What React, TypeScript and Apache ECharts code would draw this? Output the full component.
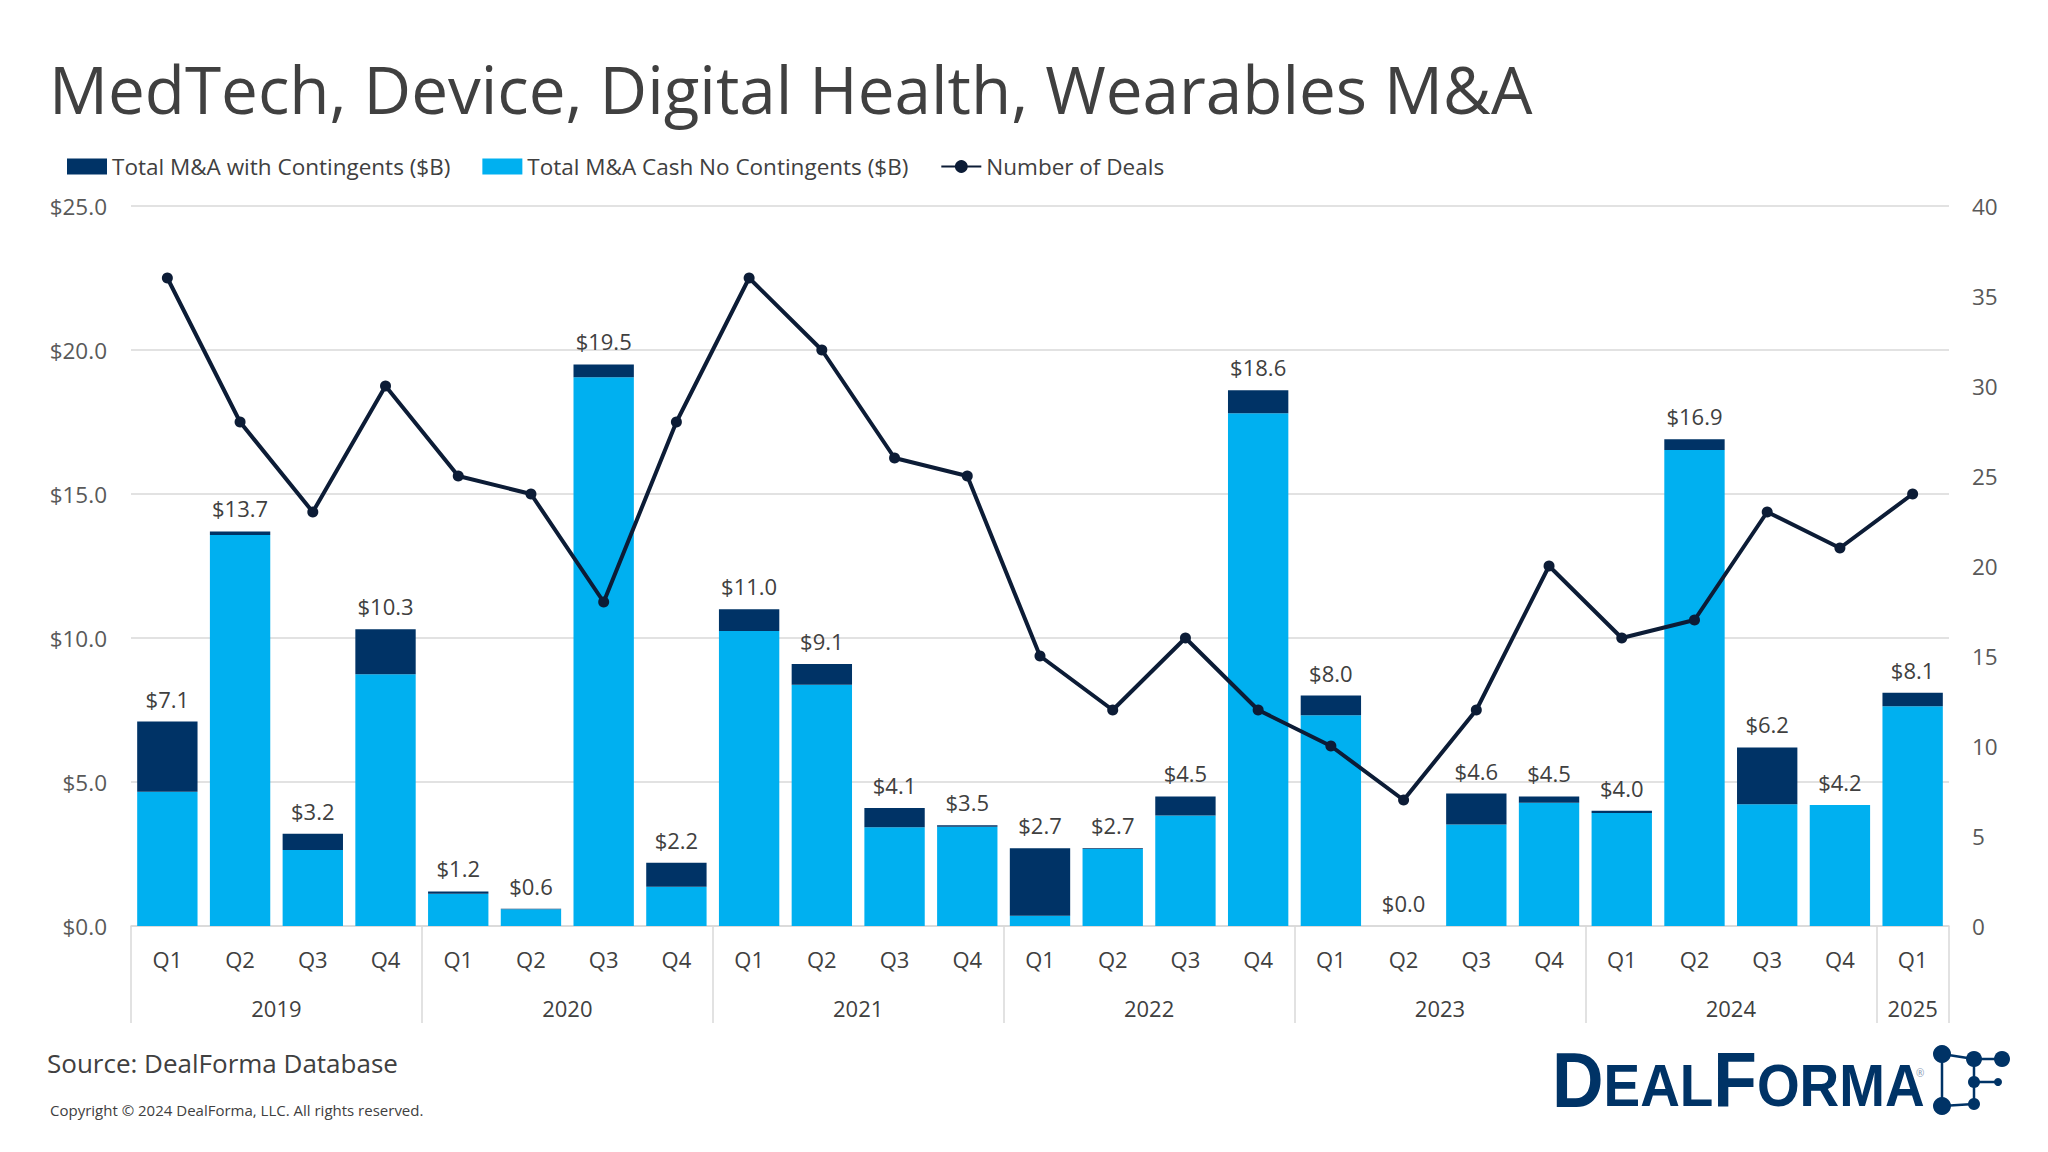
import React, { useEffect, useRef } from "react";
import * as echarts from "echarts";

// Quarterly M&A totals ($B), cash portion without contingents ($B) and deal counts
const years = ["2019", "2020", "2021", "2022", "2023", "2024", "2025"];
const quartersPerYear = [4, 4, 4, 4, 4, 4, 1];
const quarterNames = ["Q1", "Q2", "Q3", "Q4"];

const totalWithContingents = [
  7.1, 13.7, 3.2, 10.3,
  1.2, 0.6, 19.5, 2.2,
  11.0, 9.1, 4.1, 3.5,
  2.7, 2.7, 4.5, 18.6,
  8.0, 0.0, 4.6, 4.5,
  4.0, 16.9, 6.2, 4.2,
  8.1,
];
const cashNoContingents = [
  4.66, 13.58, 2.64, 8.74,
  1.12, 0.58, 19.05, 1.36,
  10.24, 8.38, 3.43, 3.45,
  0.36, 2.67, 3.84, 17.8,
  7.32, 0.0, 3.52, 4.28,
  3.92, 16.53, 4.23, 4.2,
  7.63,
];
const numberOfDeals = [
  36, 28, 23, 30,
  25, 24, 18, 28,
  36, 32, 26, 25,
  15, 12, 16, 12,
  10, 7, 12, 20,
  16, 17, 23, 21,
  24,
];

const leftTicks = { min: 0, max: 25, interval: 5 };
const rightTicks = { min: 0, max: 40, interval: 5 };

const FONT = "'Open Sans', 'Noto Sans', sans-serif";
const TEXT = "#404040";
const AXIS_TEXT = "#595959";
const GRID = "#d9d9d9";
const LIGHT = "#00b0f0";
const DARK = "#003366";
const LINE = "#0c1c36";

// category keys and display labels
const categories: string[] = [];
const quarterLabels: string[] = [];
years.forEach((y, yi) => {
  for (let q = 0; q < quartersPerYear[yi]; q++) {
    categories.push(`${y} ${quarterNames[q]}`);
    quarterLabels.push(quarterNames[q]);
  }
});

// year boundaries and centres along the quarter index
const yearBounds: number[] = [0];
const yearCenters: number[] = [];
quartersPerYear.forEach((n) => {
  const start = yearBounds[yearBounds.length - 1];
  yearCenters.push(start + n / 2);
  yearBounds.push(start + n);
});
const quarterCount = yearBounds[yearBounds.length - 1];

const contingentPart = totalWithContingents.map((t, i) =>
  Math.max(0, +(t - cashNoContingents[i]).toFixed(2))
);

function App() {
  const ref = useRef<HTMLDivElement>(null);

  useEffect(() => {
    if (!ref.current) return;
    const chart = echarts.init(ref.current, null, { renderer: "svg" });

    // logo molecule mark
    const nodes = [
      [1942, 1054, 9],
      [1974, 1059, 8],
      [2002, 1059, 8],
      [1974, 1082, 6],
      [1998, 1082, 4],
      [1942, 1106, 9],
      [1974, 1104, 6],
    ];
    const links = [
      [0, 1], [1, 2], [0, 5], [1, 6], [3, 4], [5, 6],
    ];

    const option: echarts.EChartsOption = {
      animation: false,
      backgroundColor: "#ffffff",
      textStyle: { fontFamily: FONT },
      title: {
        text: "MedTech, Device, Digital Health, Wearables M&A",
        left: 44,
        top: 50,
        textStyle: {
          fontFamily: FONT,
          fontSize: 65.6,
          fontWeight: "normal",
          color: TEXT,
        },
      },
      legend: {
        left: 62,
        top: 150,
        itemWidth: 40,
        itemHeight: 16,
        itemGap: 32,
        data: [
          { name: "Total M&A with Contingents ($B)", icon: "rect" },
          { name: "Total M&A Cash No Contingents ($B)", icon: "rect" },
          { name: "Number of Deals" },
        ],
        textStyle: { fontFamily: FONT, fontSize: 22.5, color: TEXT },
      },
      grid: { left: 131, right: 99, top: 206, bottom: 226 },
      xAxis: [
        {
          type: "category",
          data: categories,
          position: "bottom",
          axisLine: { lineStyle: { color: GRID, width: 1.5 } },
          axisTick: { show: false },
          axisLabel: {
            formatter: (_v: string, i: number) => quarterLabels[i],
            interval: 0,
            margin: 22,
            fontFamily: FONT,
            fontSize: 22,
            color: TEXT,
          },
          splitLine: { show: false },
        },
        {
          type: "value",
          position: "bottom",
          min: 0,
          max: quarterCount,
          axisLine: { show: false },
          splitLine: { show: false },
          axisTick: {
            show: true,
            customValues: yearBounds,
            length: 97,
            lineStyle: { color: GRID, width: 1.5 },
          },
          axisLabel: {
            customValues: yearCenters,
            formatter: (v: number) => {
              const idx = yearCenters.findIndex((c) => Math.abs(c - v) < 1e-6);
              return idx >= 0 ? years[idx] : "";
            },
            margin: 71,
            fontFamily: FONT,
            fontSize: 22,
            color: TEXT,
          },
        },
      ],
      yAxis: [
        {
          type: "value",
          position: "left",
          ...leftTicks,
          axisLine: { show: false },
          axisTick: { show: false },
          splitLine: { lineStyle: { color: GRID, width: 1.5 } },
          axisLabel: {
            formatter: (v: number) => "$" + v.toFixed(1),
            margin: 24,
            fontFamily: FONT,
            fontSize: 22.5,
            color: AXIS_TEXT,
          },
        },
        {
          type: "value",
          position: "right",
          ...rightTicks,
          axisLine: { show: false },
          axisTick: { show: false },
          splitLine: { show: false },
          axisLabel: {
            margin: 23,
            fontFamily: FONT,
            fontSize: 22.5,
            color: AXIS_TEXT,
          },
        },
      ],
      series: [
        {
          name: "Total M&A Cash No Contingents ($B)",
          type: "bar",
          stack: "ma",
          data: cashNoContingents,
          barCategoryGap: "17%",
          itemStyle: { color: LIGHT },
          xAxisIndex: 0,
          yAxisIndex: 0,
        },
        {
          name: "Total M&A with Contingents ($B)",
          type: "bar",
          stack: "ma",
          data: contingentPart,
          itemStyle: { color: DARK },
          xAxisIndex: 0,
          yAxisIndex: 0,
          label: {
            show: true,
            position: "top",
            distance: 12,
            formatter: (p: any) => "$" + totalWithContingents[p.dataIndex].toFixed(1),
            fontFamily: FONT,
            fontSize: 22,
            color: TEXT,
          },
        },
        {
          name: "Number of Deals",
          type: "line",
          data: numberOfDeals,
          xAxisIndex: 0,
          yAxisIndex: 1,
          symbol: "circle",
          symbolSize: 11,
          lineStyle: { color: LINE, width: 4 },
          itemStyle: { color: LINE },
          z: 5,
        },
      ],
      graphic: [
        {
          type: "text",
          left: 47,
          top: 1050,
          style: {
            text: "Source: DealForma Database",
            fontFamily: FONT,
            fontSize: 26,
            fill: TEXT,
          },
        },
        {
          type: "text",
          left: 50,
          top: 1102,
          style: {
            text: "Copyright © 2024 DealForma, LLC. All rights reserved.",
            fontFamily: FONT,
            fontSize: 15,
            fill: TEXT,
          },
        },
        {
          type: "text",
          x: 1552,
          y: 1119,
          scaleX: 0.915,
          style: {
            text: "{b|D}{s|EAL}{b|F}{s|ORMA}",
            verticalAlign: "bottom",
            rich: {
              b: {
                fontFamily: "'Liberation Sans', Arial, sans-serif",
                fontWeight: "bold",
                fontSize: 78,
                fill: DARK,
                verticalAlign: "bottom",
              },
              s: {
                fontFamily: "'Liberation Sans', Arial, sans-serif",
                fontWeight: "bold",
                fontSize: 60,
                fill: DARK,
                verticalAlign: "bottom",
                padding: [0, 0, 4, 0],
              },
            },
          },
        },
        {
          type: "text",
          x: 1916,
          y: 1068,
          style: {
            text: "®",
            fontFamily: FONT,
            fontSize: 10,
            fill: "#8a9bb5",
          },
        },
        ...links.map(([a, b]) => ({
          type: "line" as const,
          shape: {
            x1: nodes[a][0],
            y1: nodes[a][1],
            x2: nodes[b][0],
            y2: nodes[b][1],
          },
          style: { stroke: DARK, lineWidth: 2.5 },
        })),
        ...nodes.map(([cx, cy, r]) => ({
          type: "circle" as const,
          shape: { cx, cy, r },
          style: { fill: DARK },
        })),
      ],
    };

    chart.setOption(option);
    return () => chart.dispose();
  }, []);

  return (
    <div
      ref={ref}
      style={{ position: "fixed", left: 0, top: 0, width: 2048, height: 1152 }}
    />
  );
}

export default App;
